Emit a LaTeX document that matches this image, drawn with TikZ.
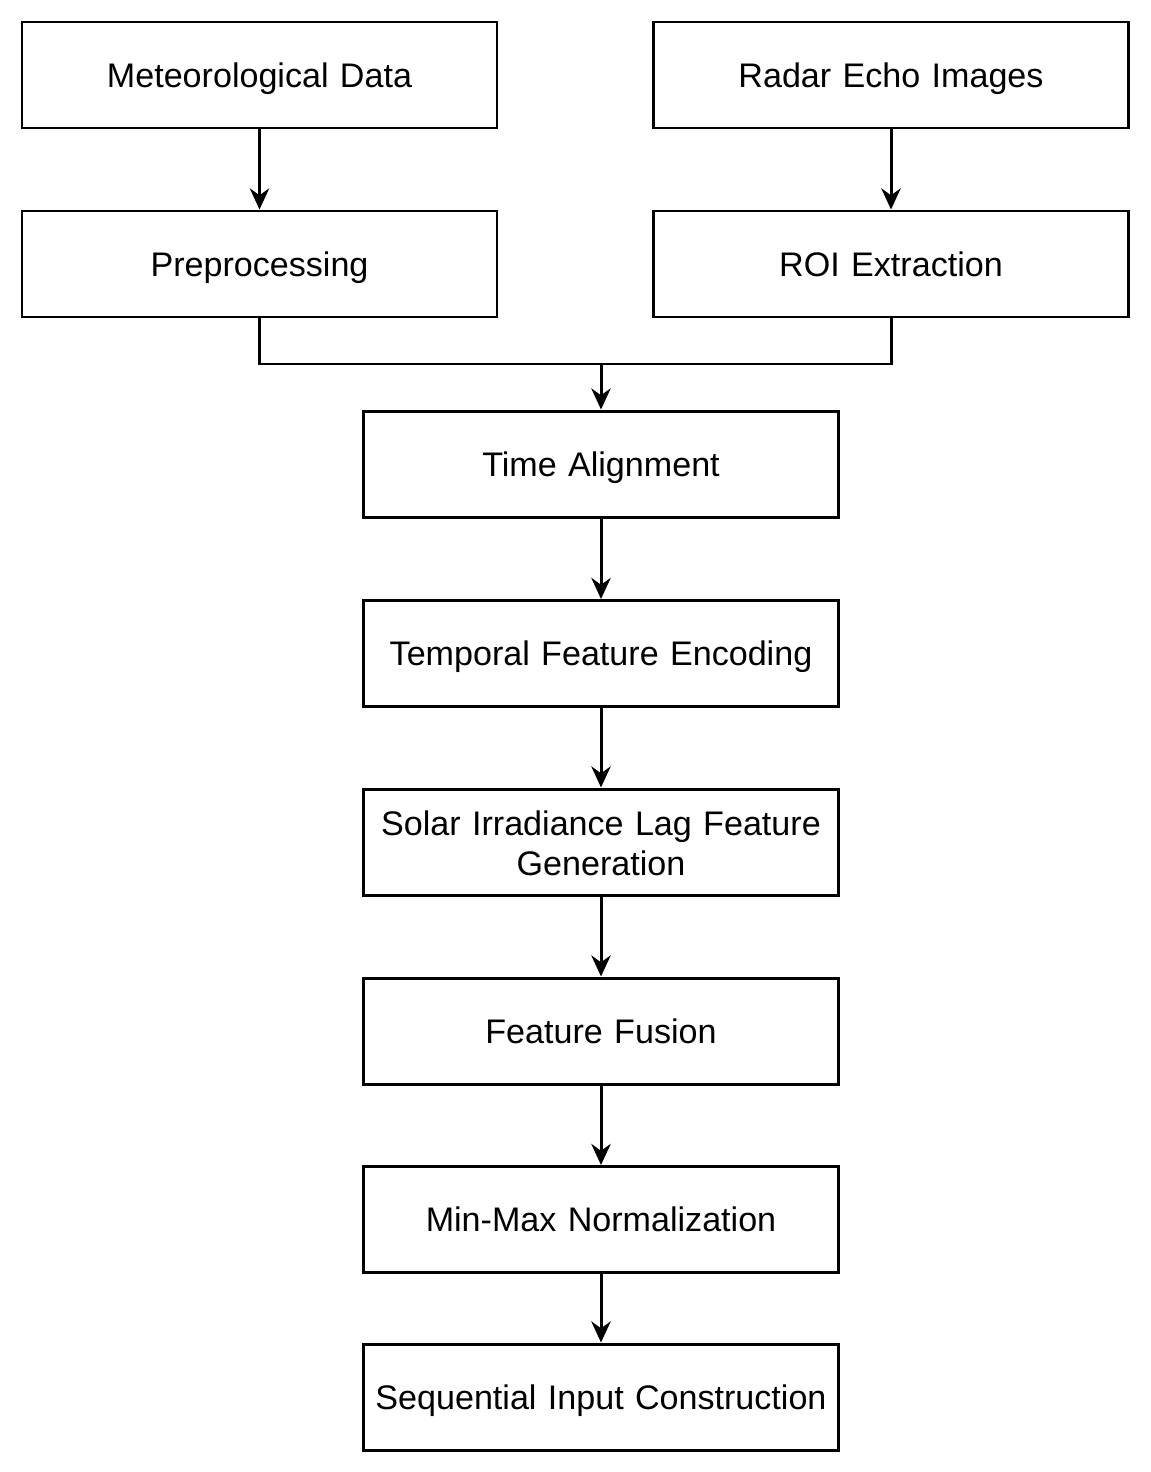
\documentclass[tikz,border=0pt]{standalone}
\usepackage{fontspec}
\setmainfont{Liberation Sans}
\usetikzlibrary{arrows.meta,positioning}

\begin{document}
\begin{tikzpicture}[
  procbox/.style={rectangle,draw,line width=1.7pt,minimum width=9.5cm,minimum height=2.12cm,
                  text width=9.1cm,align=center,font=\fontsize{19.4}{22.5}\selectfont,inner sep=0pt},
  onebox/.style={procbox,text height=0.58cm,text depth=0.1cm},
  flow/.style={-{Stealth[length=12pt,width=11pt]},line width=1.7pt}]
\useasboundingbox (0,0) rectangle (23,-29.44);

\node[onebox] (met)   at (5.19,-1.50)  {Meteorological Data};
\node[onebox] (radar) at (17.82,-1.50) {Radar Echo Images};
\node[onebox] (prep)  at (5.19,-5.28)  {Preprocessing};
\node[onebox] (roi)   at (17.82,-5.28) {ROI Extraction};

\coordinate (merge) at (12.02,-7.28);

\node[onebox] (align)  at (12.02,-9.28)  {Time Alignment};
\node[onebox] (tenc)   at (12.02,-13.07) {Temporal Feature Encoding};
\node[procbox] (lag)   at (12.02,-16.84) {\rule{0pt}{0.55cm}Solar Irradiance Lag Feature\\Generation};
\node[onebox] (fusion) at (12.02,-20.62) {Feature Fusion};
\node[onebox] (norm)   at (12.02,-24.39) {Min-Max Normalization};
\node[onebox] (seq)    at (12.02,-27.94) {Sequential Input Construction};

\draw[flow] (met) -- (prep);
\draw[flow] (radar) -- (roi);
\draw[line width=1.7pt] (prep.south) |- (merge) -| (roi.south);
\draw[flow] (merge) -- (align);
\draw[flow] (align) -- (tenc);
\draw[flow] (tenc) -- (lag);
\draw[flow] (lag) -- (fusion);
\draw[flow] (fusion) -- (norm);
\draw[flow] (norm) -- (seq);
\end{tikzpicture}
\end{document}
